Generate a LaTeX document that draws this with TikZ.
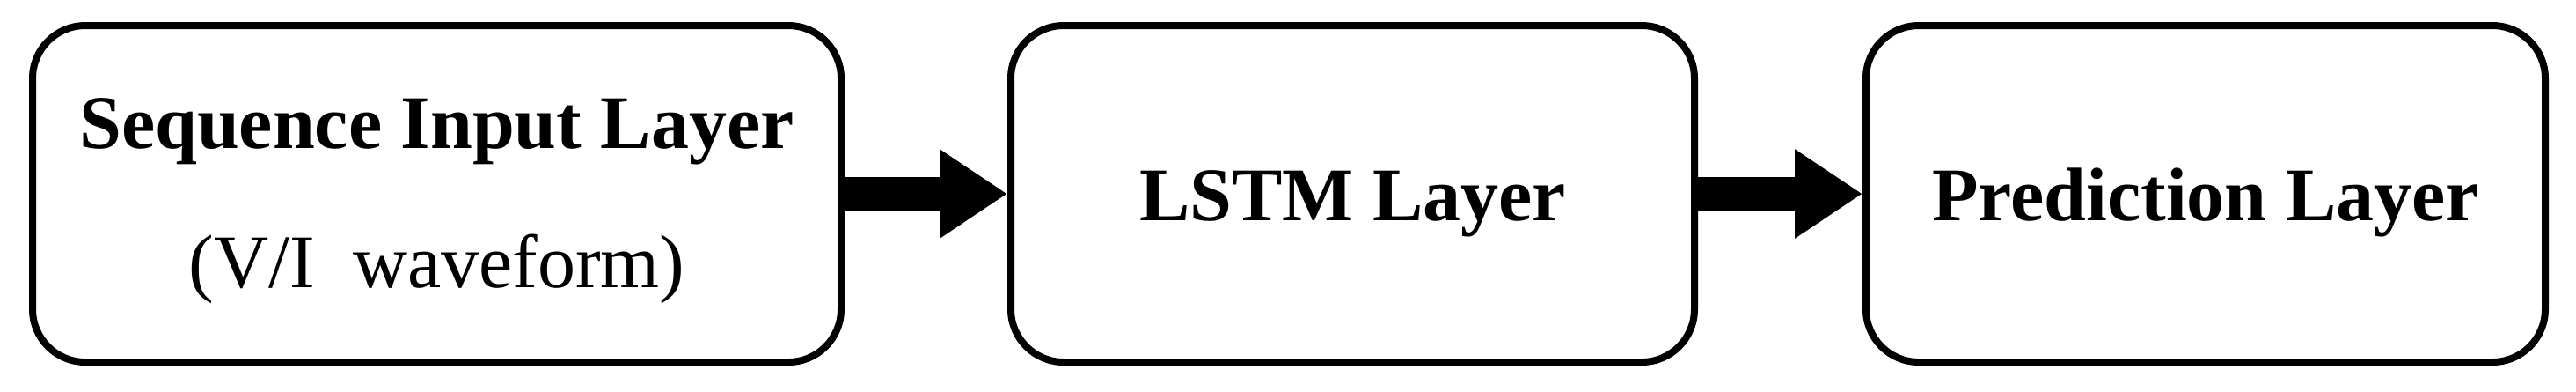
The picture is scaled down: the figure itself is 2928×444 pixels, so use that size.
\documentclass[tikz,border=0pt]{standalone}
\usepackage{fontspec}
\setmainfont{Liberation Serif}
\usetikzlibrary{arrows.meta}
\begin{document}
\begin{tikzpicture}[x=0.25pt,y=-0.25pt,
  layerbox/.style={draw=black, line width=2pt, rounded corners=15pt, fill=white,
    align=center, inner sep=0pt, minimum height=95.5pt,
    font=\fontsize{21.5pt}{39.5pt}\selectfont},
  onetext/.style={text height=19.6pt, text depth=4.6pt,
    font=\fontsize{21.5pt}{39.5pt}\selectfont\bfseries},
  flow/.style={line width=9.5pt, draw=black, -{Triangle[width=24pt,length=19.25pt]}}
]
\useasboundingbox (0,0) rectangle (2928,444);
\node[layerbox, minimum width=229.75pt] (b1) at (496.5,220)
  {\rule{0pt}{18.3pt}\textbf{Sequence Input Layer}\\(V/I\ \ waveform)};
\node[layerbox, onetext, minimum width=194.25pt] (b2) at (1537.5,220) {LSTM Layer};
\node[layerbox, onetext, minimum width=193pt] (b3) at (2507,220) {Prediction Layer};
\draw[flow] (b1.east) -- (b2.west);
\draw[flow] (b2.east) -- (b3.west);
\end{tikzpicture}
\end{document}
